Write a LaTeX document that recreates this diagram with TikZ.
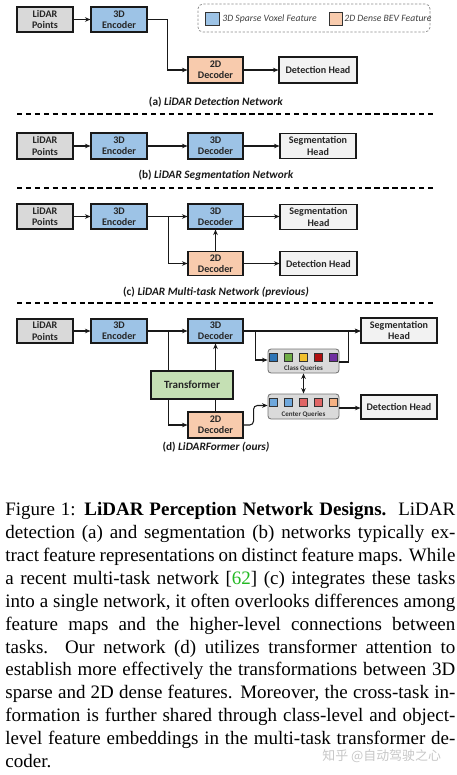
\documentclass[tikz,border=0pt]{standalone}
\usepackage{fontspec}
\setmainfont{Liberation Serif}
\newfontfamily\calfont{Carlito}
\newfontfamily\cjkfont{Noto Sans CJK SC}
\usetikzlibrary{arrows.meta,calc}
\definecolor{cgray}{HTML}{D9D9D9}
\definecolor{cblue}{HTML}{9DC3E6}
\definecolor{corange}{HTML}{F8CBAD}
\definecolor{cgreen}{HTML}{C5E0B4}
\definecolor{chead}{HTML}{F2F2F2}
\definecolor{cqbox}{HTML}{DADADA}
\definecolor{citegreen}{HTML}{22B822}
\begin{document}
\begin{tikzpicture}[x=0.526pt,y=-0.526pt,
  sz/.style 2 args={minimum width=#1*0.526pt, minimum height=#2*0.526pt},
  blk/.style={draw=black!90, line width=0.55pt, inner sep=0pt, align=center,
    font=\calfont\bfseries\fontsize{5.3}{5.8}\selectfont, text=black!85},
  inbox/.style={blk, fill=cgray},
  encbox/.style={blk, fill=cblue},
  bevbox/.style={blk, fill=corange},
  headbox/.style={blk, fill=chead},
  trbox/.style={blk, fill=cgreen, font=\calfont\bfseries\fontsize{5.8}{6}\selectfont},
  qbox/.style={draw=black!55, line width=0.45pt, fill=cqbox, rounded corners=1.6pt, inner sep=0pt},
  qlabel/.style={font=\calfont\bfseries\fontsize{3.7}{4}\selectfont, text=black!80, inner sep=0pt},
  swatch/.style={draw=black!80, line width=0.4pt, inner sep=0pt, minimum size=8*0.526pt},
  arr/.style={line width=0.55pt, draw=black!90, -{Stealth[length=2.9pt,width=2.4pt]}},
  darr/.style={line width=0.55pt, draw=black!90, {Stealth[length=2.9pt,width=2.4pt]}-{Stealth[length=2.9pt,width=2.4pt]}},
  conn/.style={line width=0.55pt, draw=black!90},
  sep/.style={line width=0.65pt, dash pattern=on 2.8pt off 1.9pt},
  subcap/.style={font=\calfont\bfseries\fontsize{5.95}{6.5}\selectfont, text=black!90, inner sep=0pt},
  legtext/.style={font=\calfont\itshape\fontsize{5.1}{6}\selectfont, text=black!75, inner sep=0pt, anchor=west}
]
\useasboundingbox (0,0) rectangle (457,775);

% ---------- legend ----------
\node[draw=black!45, dash pattern=on 1.2pt off 0.9pt, line width=0.4pt, rounded corners=2.5pt, sz={232}{28}] (leg) at (314,18) {};
\node[swatch, fill=cblue, sz={14}{13}] (legb) at (212.5,18.5) {};
\node[legtext] (legbt) at (222,18.5) {3D Sparse Voxel Feature};
\node[swatch, fill=corange, sz={13}{13}] (lego) at (335.5,18.5) {};
\node[legtext] (legot) at (344,18.5) {2D Dense BEV Feature};

% ---------- (a) ----------
\node[inbox, sz={56}{25}] (la) at (45,19.5) {LiDAR\\Points};
\node[encbox, sz={56}{25}] (ea) at (119,19.5) {3D\\Encoder};
\node[bevbox, sz={55}{26}] (da) at (215.5,70) {2D\\Decoder};
\node[headbox, sz={78}{26}] (ha) at (318,70) {Detection Head};
\draw[arr] (la) -- (ea);
\draw[arr] (ea.east) -- ++(20,0) |- (da.west);
\draw[arr] (da) -- (da -| ha.west);
\node[subcap] (capa) at (216,102) {(a) \textit{LiDAR Detection Network}};
\coordinate (s1l) at (17,114); \coordinate (s1r) at (435,114);
\draw[sep] (s1l) -- (s1r);

% ---------- (b) ----------
\node[inbox, sz={56}{26}] (lb) at (45,146) {LiDAR\\Points};
\node[encbox, sz={56}{26}] (eb) at (119,146) {3D\\Encoder};
\node[encbox, sz={55}{26}] (db) at (215.5,146) {3D\\Decoder};
\node[headbox, sz={76}{25}] (hb) at (318,146) {Segmentation\\Head};
\draw[arr] (lb) -- (eb);
\draw[arr] (eb) -- (db);
\draw[arr] (db) -- (hb);
\node[subcap] (capb) at (216,175) {(b) \textit{LiDAR Segmentation Network}};
\coordinate (s2l) at (17,188); \coordinate (s2r) at (435,188);
\draw[sep] (s2l) -- (s2r);

% ---------- (c) ----------
\node[inbox, sz={56}{25}] (lc) at (45,216.5) {LiDAR\\Points};
\node[encbox, sz={56}{25}] (ec) at (119,216.5) {3D\\Encoder};
\node[encbox, sz={55}{25}] (dc3) at (215.5,216.5) {3D\\Decoder};
\node[headbox, sz={77}{25}] (hc1) at (318.5,217) {Segmentation\\Head};
\node[bevbox, sz={55}{24}] (dc2) at (215.5,263.5) {2D\\Decoder};
\node[headbox, sz={77}{24}] (hc2) at (318.5,263.5) {Detection Head};
\draw[arr] (lc) -- (ec);
\draw[arr] (ec) -- (dc3);
\coordinate (jc) at ($(ec.east)+(21,0)$);
\draw[arr] (jc) |- (dc2.west);
\draw[arr] (dc2) -- (dc3);
\draw[arr] (dc3.east) -- (dc3.east -| hc1.west);
\draw[arr] (dc2.east) -- (dc2.east -| hc2.west);
\node[subcap] (capc) at (216,292) {(c) \textit{LiDAR Multi-task Network (previous)}};
\coordinate (s3l) at (17,303); \coordinate (s3r) at (435,303);
\draw[sep] (s3l) -- (s3r);

% ---------- (d) ----------
\node[inbox, sz={56}{24}] (ld) at (45,331) {LiDAR\\Points};
\node[encbox, sz={56}{24}] (ed) at (119,331) {3D\\Encoder};
\node[encbox, sz={55}{24}] (dd3) at (215.5,331) {3D\\Decoder};
\node[headbox, sz={76}{25}] (hd1) at (399,330.5) {Segmentation\\Head};
\node[trbox, sz={82}{28}] (tr) at (192,385) {Transformer};
\node[bevbox, sz={55}{26}] (dd2) at (215.5,425) {2D\\Decoder};
\node[headbox, sz={76}{24}] (hd2) at (399,407) {Detection Head};

\node[qbox, sz={71}{24}] (cq) at (303.5,361) {};
\node[qbox, sz={71}{25}] (zq) at (303.5,406.5) {};
\foreach \c [count=\i] in {2E75B6,70AD47,F2C12E,B01010,7030A0}{
  \definecolor{tmpc}{HTML}{\c}
  \node[swatch, fill=tmpc] (cqs\i) at ($(cq.north west)+({5.5+15.2*(\i-1)},8.5)$) {};
}
\foreach \c [count=\i] in {6FA8DC,6FA8DC,E06666,E06666,F4B183}{
  \definecolor{tmpc}{HTML}{\c}
  \node[swatch, fill=tmpc] (zqs\i) at ($(zq.north west)+({5.5+15.2*(\i-1)},8.5)$) {};
}
\node[qlabel] (cql) at ($(cq.north)+(0,19.5)$) {Class Queries};
\node[qlabel] (zql) at ($(zq.north)+(0,20.5)$) {Center Queries};

\draw[arr] (ld) -- (ed);
\draw[arr] (ed) -- (dd3);
\coordinate (jd) at ($(ed.east)+(21,0)$);
\draw[conn] (jd) -- (jd |- tr.north);
\draw[arr] (jd |- tr.south) |- (dd2.west);
\draw[arr] (dd3.south |- tr.north) -- (dd3.south);
\draw[conn] (dd2.north |- tr.south) -- (dd2.north);
\draw[arr] (dd3.east) -- (dd3.east -| hd1.west);
\coordinate (jd2) at ($(dd3.east)+(12,0)$);
\coordinate (cqin) at ($(cq.west)+(0,-1)$);
\coordinate (cqout) at ($(cq.east)+(0,1)$);
\draw[arr] (jd2) |- (cqin);
\draw[arr] (cqout) -- ++(9,0) |- (dd3.east -| hd1.west);
\draw[darr] (cq.south) -- (zq.north);
\coordinate (zqin) at ($(zq.west)+(0,-1)$);
\coordinate (zqout) at ($(zq.east)+(0,1.5)$);
\draw[arr, rounded corners=2pt] (dd2.east) -- ++(10,0) |- (zqin);
\draw[arr] (zqout) -- (zqout -| hd2.west);
\node[subcap] (capd) at (216,447) {(d) \textit{LiDARFormer (ours)}};

% ---------- caption ----------
\node[anchor=north west, inner sep=0pt, text width=450*0.526pt, align=justify,
  font=\fontsize{10}{12.05}\selectfont] (cap) at (5,502) {%
Figure 1: \textbf{LiDAR Perception Network Designs.}\ \ LiDAR\linebreak
detection (a) and segmentation (b) networks typically ex-\linebreak
tract feature representations on distinct feature maps. While\linebreak
a recent multi-task network [\textcolor{citegreen}{62}] (c) integrates these tasks\linebreak
into a single network, it often overlooks differences among\linebreak
feature maps and the higher-level connections between\linebreak
tasks.\ \ Our network (d) utilizes transformer attention to\linebreak
establish more effectively the transformations between 3D\linebreak
sparse and 2D dense features. Moreover, the cross-task in-\linebreak
formation is further shared through class-level and object-\linebreak
level feature embeddings in the multi-task transformer de-\linebreak
coder.};

\node[anchor=west, inner sep=0pt, text=black!22, font=\cjkfont\fontsize{6.8}{7}\selectfont] (wm) at (322,756) {知乎 @自动驾驶之心};
\end{tikzpicture}
\end{document}
